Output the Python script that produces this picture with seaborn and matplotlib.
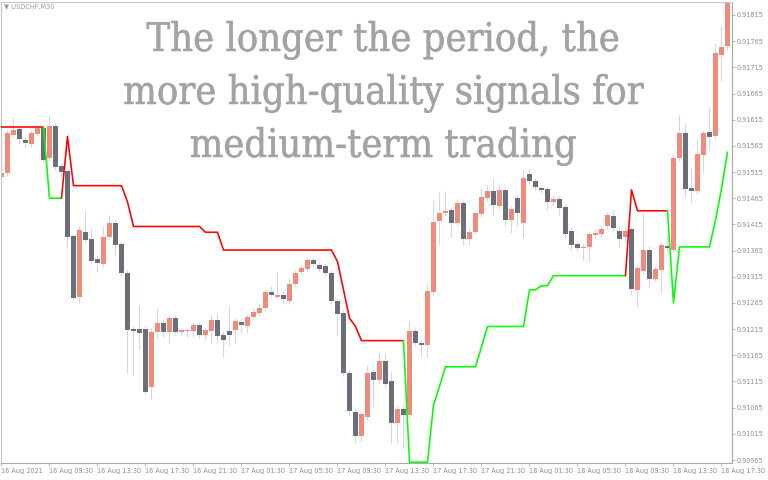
import numpy as np
import pandas as pd
import matplotlib
matplotlib.use("Agg")
import matplotlib.pyplot as plt
import matplotlib.patheffects as pe
import seaborn as sns

# ---------------- data (prices in points, 1 point = 0.00001) ----------------
symbol_label = "\u25BC USDCHF,M30"
title_lines = ["The longer the period, the",
               "more high-quality signals for",
               "medium-term trading"]

open_pts = [91506, 91514, 91586, 91597, 91576, 91568, 91587, 91599, 91541, 91602,
            91527, 91517, 91392, 91276, 91401, 91387, 91348, 91339, 91390, 91417,
            91377, 91322, 91215, 91215, 91215, 91105, 91210, 91226, 91209, 91236,
            91210, 91211, 91211, 91223, 91204, 91211, 91232, 91204, 91212, 91213,
            91229, 91221, 91239, 91246, 91255, 91286, 91277, 91281, 91269, 91301,
            91324, 91330, 91347, 91337, 91336, 91322, 91269, 91245, 91131, 91057,
            91011, 91048, 91133, 91118, 91155, 91116, 91035, 91062, 91051, 91212,
            91189, 91184, 91285, 91422, 91436, 91443, 91417, 91456, 91388, 91401,
            91434, 91465, 91479, 91450, 91481, 91423, 91465, 91418, 91511, 91498,
            91484, 91482, 91457, 91464, 91448, 91403, 91378, 91370, 91371, 91395,
            91397, 91411, 91431, 91403, 91390, 91406, 91290, 91326, 91367, 91311,
            91328, 91374, 91367, 91541, 91589, 91484, 91478, 91548, 91591, 91583,
            91739, 91756]
high_pts = [91523, 91595, 91618, 91603, 91582, 91595, 91605, 91605, 91624, 91609,
            91532, 91523, 91399, 91412, 91443, 91408, 91355, 91411, 91433, 91423,
            91383, 91328, 91221, 91261, 91221, 91217, 91255, 91232, 91242, 91242,
            91217, 91217, 91229, 91229, 91219, 91242, 91246, 91210, 91261, 91236,
            91236, 91244, 91255, 91263, 91292, 91297, 91324, 91288, 91313, 91328,
            91337, 91353, 91353, 91343, 91341, 91328, 91274, 91252, 91137, 91064,
            91059, 91146, 91139, 91170, 91170, 91134, 91068, 91068, 91232, 91219,
            91196, 91299, 91462, 91476, 91478, 91448, 91464, 91464, 91408, 91443,
            91485, 91490, 91504, 91490, 91486, 91450, 91471, 91519, 91521, 91504,
            91490, 91488, 91469, 91469, 91454, 91410, 91383, 91380, 91402, 91406,
            91412, 91439, 91443, 91410, 91410, 91412, 91337, 91436, 91374, 91336,
            91381, 91392, 91548, 91624, 91608, 91525, 91576, 91595, 91640, 91761,
            91793, 91840]
low_pts = [91494, 91507, 91582, 91569, 91561, 91563, 91584, 91532, 91536, 91519,
           91507, 91370, 91271, 91265, 91380, 91341, 91324, 91334, 91385, 91357,
           91316, 91131, 91127, 91175, 91091, 91081, 91198, 91200, 91188, 91204,
           91204, 91200, 91200, 91198, 91194, 91188, 91188, 91162, 91185, 91188,
           91208, 91210, 91232, 91240, 91250, 91274, 91273, 91263, 91263, 91295,
           91318, 91324, 91334, 91324, 91316, 91263, 91204, 91125, 91051, 90998,
           91000, 91041, 91067, 91112, 91104, 90998, 90998, 90988, 91045, 91183,
           91162, 91162, 91280, 91376, 91431, 91391, 91412, 91376, 91376, 91397,
           91429, 91460, 91433, 91444, 91411, 91399, 91412, 91389, 91494, 91481,
           91475, 91443, 91452, 91433, 91389, 91366, 91362, 91347, 91344, 91389,
           91391, 91406, 91402, 91372, 91385, 91280, 91258, 91320, 91294, 91305,
           91284, 91364, 91362, 91536, 91465, 91455, 91473, 91513, 91557, 91578,
           91688, 91748]
close_pts = [91514, 91589, 91595, 91578, 91570, 91590, 91599, 91538, 91602, 91525,
             91516, 91390, 91275, 91404, 91385, 91346, 91341, 91390, 91418, 91376,
             91322, 91213, 91211, 91208, 91095, 91210, 91226, 91209, 91236, 91210,
             91212, 91212, 91223, 91204, 91213, 91232, 91201, 91194, 91204, 91231,
             91222, 91238, 91248, 91256, 91285, 91280, 91279, 91272, 91302, 91322,
             91331, 91347, 91339, 91330, 91322, 91269, 91244, 91131, 91059, 91010,
             91052, 91131, 91118, 91155, 91110, 91035, 91062, 91050, 91212, 91189,
             91184, 91288, 91419, 91436, 91441, 91417, 91456, 91387, 91401, 91436,
             91467, 91479, 91452, 91481, 91423, 91444, 91436, 91503, 91498, 91486,
             91481, 91457, 91464, 91446, 91397, 91376, 91369, 91372, 91397, 91399,
             91406, 91433, 91408, 91387, 91403, 91292, 91331, 91367, 91311, 91329,
             91376, 91369, 91541, 91589, 91482, 91478, 91550, 91589, 91581, 91742,
             91754, 91838]

# trailing-stop indicator value and its side ("r" = resistance, "g" = support)
stop_pts = [91601, 91601, 91601, 91601, 91601, 91601, 91601, 91601, 91465, 91465,
            91465, 91583, 91489, 91489, 91489, 91489, 91489, 91489, 91489, 91489,
            91489, 91458, 91411, 91411, 91411, 91411, 91411, 91411, 91411, 91411,
            91411, 91411, 91411, 91411, 91400, 91400, 91400, 91366, 91366, 91366,
            91366, 91366, 91366, 91366, 91366, 91366, 91366, 91366, 91366, 91366,
            91366, 91366, 91366, 91366, 91366, 91366, 91344, 91290, 91236, 91220,
            91193, 91193, 91193, 91193, 91193, 91193, 91193, 91193, 90961, 90961,
            90961, 90961, 91070, 91106, 91143, 91143, 91143, 91143, 91143, 91143,
            91181, 91220, 91220, 91220, 91220, 91220, 91220, 91220, 91290, 91290,
            91298, 91298, 91317, 91317, 91317, 91317, 91317, 91317, 91317, 91317,
            91317, 91317, 91317, 91317, 91317, 91481, 91441, 91441, 91441, 91441,
            91441, 91441, 91265, 91372, 91372, 91372, 91372, 91372, 91372, 91423,
            91483, 91553]
stop_side = ["r", "r", "r", "r", "r", "r", "r", "r", "g", "g",
             "g", "r", "r", "r", "r", "r", "r", "r", "r", "r",
             "r", "r", "r", "r", "r", "r", "r", "r", "r", "r",
             "r", "r", "r", "r", "r", "r", "r", "r", "r", "r",
             "r", "r", "r", "r", "r", "r", "r", "r", "r", "r",
             "r", "r", "r", "r", "r", "r", "r", "r", "r", "r",
             "r", "r", "r", "r", "r", "r", "r", "r", "g", "g",
             "g", "g", "g", "g", "g", "g", "g", "g", "g", "g",
             "g", "g", "g", "g", "g", "g", "g", "g", "g", "g",
             "g", "g", "g", "g", "g", "g", "g", "g", "g", "g",
             "g", "g", "g", "g", "g", "r", "r", "r", "r", "r",
             "r", "r", "g", "g", "g", "g", "g", "g", "g", "g",
             "g", "g"]

x_tick_labels = ["16 Aug 2021", "16 Aug 09:30", "16 Aug 13:30", "16 Aug 17:30",
                 "16 Aug 21:30", "17 Aug 01:30", "17 Aug 05:30", "17 Aug 09:30",
                 "17 Aug 13:30", "17 Aug 17:30", "17 Aug 21:30", "18 Aug 01:30",
                 "18 Aug 05:30", "18 Aug 09:30", "18 Aug 13:30", "18 Aug 17:30"]
y_tick_labels = ["0.90965", "0.91015", "0.91065", "0.91115", "0.91165", "0.91215",
                 "0.91265", "0.91315", "0.91365", "0.91415", "0.91465", "0.91515",
                 "0.91565", "0.91615", "0.91665", "0.91715", "0.91765", "0.91815"]

# ---------------- styling ----------------
sns.set_theme(style="white")
plt.rcParams["font.family"] = ["DejaVu Sans"]

BULL = "#f08a7b"
BEAR = "#6b6f77"
WICK = "#d6d6e2"
RED = "#ff0000"
GREEN = "#00ff00"
AXIS = "#a8a8a8"
LABEL = "#8c8c8c"
TITLE = "#a3a3a3"

df = pd.DataFrame({
    "bar": np.arange(len(open_pts)),
    "open": np.array(open_pts) / 1e5,
    "high": np.array(high_pts) / 1e5,
    "low": np.array(low_pts) / 1e5,
    "close": np.array(close_pts) / 1e5,
    "stop": np.array(stop_pts) / 1e5,
    "side": stop_side,
})

W, H = 768, 480
fig = plt.figure(figsize=(W / 100, H / 100), dpi=100)
fig.patch.set_facecolor("white")
ax = fig.add_axes([1 / W, 17 / H, 731 / W, 461 / H])
ax.set_facecolor("white")

# wicks
ax.vlines(df["bar"], df["low"], df["high"], color=WICK, lw=0.8, zorder=1)

# bodies
bull = df["close"] >= df["open"]
body_bottom = np.minimum(df["open"], df["close"])
body_h = np.maximum((df["close"] - df["open"]).abs(), 0.000025)
ax.bar(df["bar"], body_h, bottom=body_bottom, width=0.8,
       color=np.where(bull, BULL, BEAR), linewidth=0, zorder=2)

# trailing stop line, coloured by side (segment takes the colour of its end bar)
side = df["side"].tolist()
start = 0
for k in range(1, len(side) + 1):
    if k == len(side) or side[k] != side[start]:
        a = max(start - 1, 0)
        seg = df.iloc[a:k]
        sns.lineplot(data=seg, x="bar", y="stop", ax=ax, estimator=None, sort=False,
                     color=RED if side[start] == "r" else GREEN, lw=1.15,
                     legend=False, zorder=3)
        start = k

ax.set_xlim(-0.083, 121.75)
ax.set_ylim(0.9095927, 0.9183978)
ax.set_xlabel("")
ax.set_ylabel("")

# axes / ticks
ax.set_xticks(np.arange(0, 121, 8))
ax.set_xticklabels(x_tick_labels)
for lbl in ax.get_xticklabels():
    lbl.set_horizontalalignment("left")
ax.yaxis.tick_right()
ax.set_yticks([float(v) for v in y_tick_labels])
ax.set_yticklabels(y_tick_labels)
ax.tick_params(axis="x", bottom=True, length=2.4, width=0.6, color=AXIS,
               labelsize=4.7, labelcolor=LABEL, pad=1.2)
ax.tick_params(axis="y", right=True, left=False, length=2.4, width=0.6, color=AXIS,
               labelsize=4.7, labelcolor=LABEL, pad=1.0)
for s in ax.spines.values():
    s.set_color("#c4c4c4")
    s.set_linewidth(0.8)
ax.spines["right"].set_color(AXIS)
ax.spines["bottom"].set_color(AXIS)
ax.grid(False)

# symbol label
fig.text(4 / W, 1 - 7 / H, symbol_label, fontsize=4.8, color="#999999",
         ha="left", va="center")

# overlay title text (fit width of first line)
renderer = fig.canvas.get_renderer()
probe = fig.text(0.5, 0.5, title_lines[0], fontsize=30, family=["DejaVu Serif"],
                 fontstretch="condensed")
wpx = probe.get_window_extent(renderer=renderer).width
probe.remove()
fs = 30 * 472.0 / wpx
for line, base in zip(title_lines, [51, 104, 157]):
    fig.text(383 / W, 1 - base / H, line, fontsize=fs, family=["DejaVu Serif"],
             fontstretch="condensed", color=TITLE, ha="center",
             va="baseline", zorder=10,
             path_effects=[pe.withStroke(linewidth=0.35, foreground=TITLE)])

fig.savefig("out.png", dpi=100, facecolor="white")
